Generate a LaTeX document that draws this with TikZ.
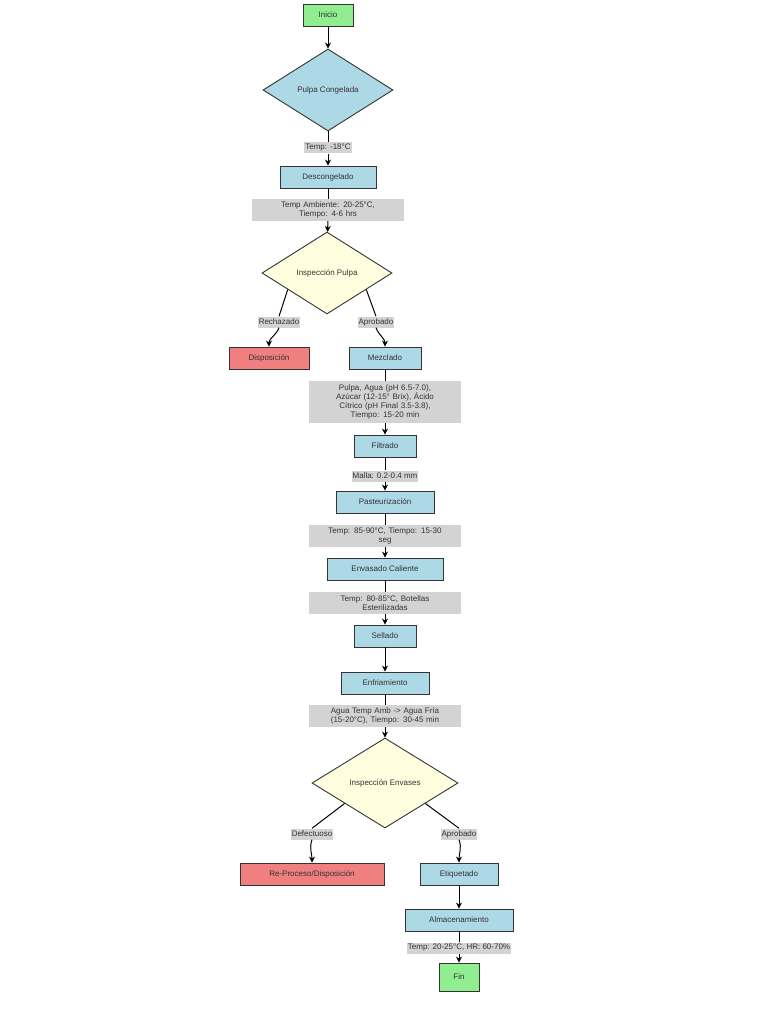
\documentclass[tikz,border=0pt]{standalone}
\usepackage{fontspec}
\setmainfont{Liberation Sans}
\usetikzlibrary{shapes.geometric,arrows.meta,calc}
\definecolor{bl}{HTML}{ADD8E6}
\definecolor{gr}{HTML}{90EE90}
\definecolor{rd}{HTML}{F08080}
\definecolor{yl}{HTML}{FFFFE0}
\definecolor{lg}{HTML}{D3D3D3}
\definecolor{tx}{HTML}{333333}
\tikzset{
 box/.style={draw=black!80,line width=0.9pt,minimum height=22pt,inner sep=0pt,text=tx,font=\fontsize{8}{9.5}\selectfont},
 proc/.style={box,fill=bl},
 term/.style={box,fill=gr},
 bad/.style={box,fill=rd},
 dec/.style={diamond,draw=black!80,line width=0.9pt,inner sep=0pt,text=tx,font=\fontsize{8}{9.5}\selectfont},
 lbl/.style={fill=lg,inner sep=1pt,text=tx,align=center,font=\fontsize{8}{9.2}\selectfont,minimum height=11pt},
 arr/.style={-{Stealth[length=6pt,width=6pt]},line width=1pt},
}
\begin{document}
\begin{tikzpicture}[x=1pt,y=-1pt]
\useasboundingbox (0,0) rectangle (768,1024);
\node[term,minimum width=50pt] (ini) at (328,15) {Inicio};
\node[dec,fill=bl,minimum width=130pt,minimum height=82pt] (pc) at (328,90) {Pulpa Congelada};
\node[lbl] (l1) at (328,148) {Temp: -18°C};
\node[proc,minimum width=96pt] (des) at (328,177) {Descongelado};
\node[lbl,text width=150pt,minimum height=22pt] (l2) at (328,210) {Temp Ambiente: 20-25°C,\\ Tiempo: 4-6 hrs};
\node[dec,fill=yl,minimum width=130pt,minimum height=82pt] (ip) at (327,273) {Inspección Pulpa};
\node[lbl] (rec) at (279,322) {Rechazado};
\node[lbl] (apr1) at (376,322) {Aprobado};
\node[bad,minimum width=80pt] (disp) at (269,358) {Disposición};
\node[proc,minimum width=72pt] (mez) at (385,358) {Mezclado};
\node[lbl,text width=150pt,minimum height=42pt] (l3) at (385,402) {Pulpa, Agua (pH 6.5-7.0),\\ Azúcar (12-15° Brix), Ácido\\ Cítrico (pH Final 3.5-3.8),\\ Tiempo: 15-20 min};
\node[proc,minimum width=62pt] (fil) at (385,446) {Filtrado};
\node[lbl] (l4) at (385,476) {Malla: 0.2-0.4 mm};
\node[proc,minimum width=98pt] (pas) at (385,502) {Pasteurización};
\node[lbl,text width=150pt,minimum height=22pt] (l5) at (385,536) {Temp: 85-90°C, Tiempo: 15-30\\ seg};
\node[proc,minimum width=116pt] (env) at (385,569) {Envasado Caliente};
\node[lbl,text width=150pt,minimum height=22pt] (l6) at (385,603) {Temp: 80-85°C, Botellas\\ Esterilizadas};
\node[proc,minimum width=62pt] (sel) at (385,636) {Sellado};
\node[proc,minimum width=88pt] (enf) at (385,683) {Enfriamiento};
\node[lbl,text width=150pt,minimum height=22pt] (l7) at (385,716) {Agua Temp Amb -> Agua Fría\\ (15-20°C), Tiempo: 30-45 min};
\node[dec,fill=yl,minimum width=146pt,minimum height=90pt] (ie) at (385,783) {Inspección Envases};
\node[lbl] (def) at (312,834) {Defectuoso};
\node[lbl] (apr2) at (459,834) {Aprobado};
\node[bad,minimum width=144pt] (rep) at (312,874) {Re-Proceso/Disposición};
\node[proc,minimum width=78pt] (eti) at (459,874) {Etiquetado};
\node[proc,minimum width=108pt] (alm) at (459,920) {Almacenamiento};
\node[lbl] (l8) at (459,948) {Temp: 20-25°C, HR: 60-70\%};
\node[term,minimum width=40pt,minimum height=28pt] (fin) at (459,977) {Fin};

\draw[arr] (ini) -- (pc);
\draw[line width=1pt] (pc.south) -- (l1.north);
\draw[arr] (l1) -- (des);
\draw[line width=1pt] (des) -- (l2.north);
\draw[arr] (l2) -- (ip);
\draw[line width=1pt] ($(ip.south)!0.6!(ip.west)$) -- (rec.north);
\draw[arr] (rec.south) to[out=-110,in=90] (disp.north);
\draw[line width=1pt] ($(ip.south)!0.6!(ip.east)$) -- (apr1.north);
\draw[arr] (apr1.south) to[out=-70,in=90] (mez.north);
\draw[line width=1pt] (mez) -- (l3.north);
\draw[arr] (l3) -- (fil);
\draw[line width=1pt] (fil) -- (l4.north);
\draw[arr] (l4) -- (pas);
\draw[line width=1pt] (pas) -- (l5.north);
\draw[arr] (l5) -- (env);
\draw[line width=1pt] (env) -- (l6.north);
\draw[arr] (l6) -- (sel);
\draw[arr] (sel) -- (enf);
\draw[line width=1pt] (enf) -- (l7.north);
\draw[arr] (l7) -- (ie);
\draw[line width=1pt] ($(ie.south)!0.55!(ie.west)$) -- (def.north);
\draw[arr] (def.south) to[out=-110,in=90] (rep.north);
\draw[line width=1pt] ($(ie.south)!0.55!(ie.east)$) -- (apr2.north);
\draw[arr] (apr2.south) to[out=-70,in=90] (eti.north);
\draw[arr] (eti) -- (alm);
\draw[line width=1pt] (alm) -- (l8.north);
\draw[arr] (l8) -- (fin);
\end{tikzpicture}
\end{document}
